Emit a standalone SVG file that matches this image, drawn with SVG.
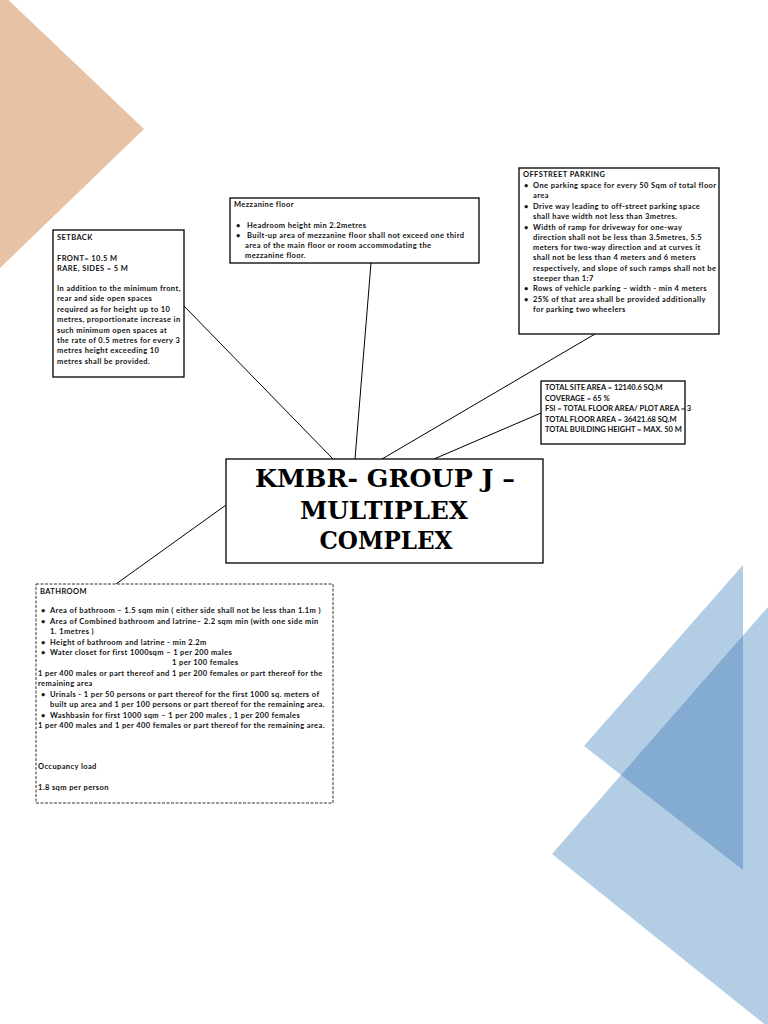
<svg xmlns="http://www.w3.org/2000/svg" width="768" height="1024" viewBox="0 0 768 1024">
<style>
.box{fill:#fff;stroke:#000;stroke-width:1.3}
.dash{fill:#fff;stroke:#333;stroke-width:1;stroke-dasharray:3 1.5}
.t{font-family:Lato,"Liberation Sans",sans-serif;font-size:7.5px;font-weight:bold;fill:#111;letter-spacing:0.4px}
.caps{letter-spacing:0}
.title{font-family:"DejaVu Serif","Liberation Serif",serif;font-size:24px;font-weight:bold;fill:#000;text-anchor:middle}
.conn{stroke:#000;stroke-width:1;fill:none}
</style>
<rect width="768" height="1024" fill="#fff"/>
<g id="decor">
<polygon points="0,-8 144,129 0,268" fill="#E8C2A5"/>
<polygon points="743,565 584,746 743,870" fill="#B3CDE4"/>
<polygon points="768,607 552,854 768,1027" fill="#B3CDE4"/>
<polygon points="743,635.6 621,775 743,870" fill="#84ABD2"/>
</g>
<g id="connectors">
<line class="conn" x1="184" y1="306" x2="333" y2="459"/>
<line class="conn" x1="371" y1="263" x2="355" y2="459"/>
<line class="conn" x1="595" y1="334" x2="382" y2="459"/>
<line class="conn" x1="541" y1="413" x2="434" y2="459"/>
<line class="conn" x1="226" y1="505" x2="116" y2="584"/>
</g>
<g id="setback">
<rect class="box" x="53" y="230" width="131" height="147"/>
<text class="t" x="57" y="240">SETBACK</text>
<text class="t" x="57" y="261">FRONT= 10.5 M</text>
<text class="t" x="57" y="271">RARE, SIDES = 5 M</text>
<text class="t" x="57" y="291">In addition to the minimum front,</text>
<text class="t" x="57" y="301">rear and side open spaces</text>
<text class="t" x="57" y="312">required as  for height up to 10</text>
<text class="t" x="57" y="322">metres, proportionate increase in</text>
<text class="t" x="57" y="333">such minimum open spaces at</text>
<text class="t" x="57" y="343">the rate of 0.5 metres for every 3</text>
<text class="t" x="57" y="353">metres height exceeding 10</text>
<text class="t" x="57" y="364">metres shall be provided.</text>
</g>
<g id="mezzanine">
<rect class="box" x="230" y="198" width="249" height="65"/>
<text class="t" x="234" y="207">Mezzanine floor</text>
<text class="t" x="236" y="228">•</text><text class="t" x="247" y="228">Headroom height min 2.2metres</text>
<text class="t" x="236" y="238">•</text><text class="t" x="247" y="238">Built-up area of mezzanine floor shall not exceed one third</text>
<text class="t" x="245" y="248">area of the main floor or room accommodating the</text>
<text class="t" x="245" y="258">mezzanine floor.</text>
</g>
<g id="parking">
<rect class="box" x="519" y="168" width="200" height="166"/>
<text class="t" x="523" y="177">OFFSTREET PARKING</text>
<text class="t" x="524" y="188">•</text><text class="t" x="533" y="188">One parking space for every 50 Sqm of total floor</text>
<text class="t" x="533" y="198">area</text>
<text class="t" x="524" y="209">•</text><text class="t" x="533" y="209">Drive way leading to off-street parking space</text>
<text class="t" x="533" y="219">shall have width not less than 3metres.</text>
<text class="t" x="524" y="230">•</text><text class="t" x="533" y="230">Width of ramp for driveway for one-way</text>
<text class="t" x="533" y="240">direction shall not be less than 3.5metres, 5.5</text>
<text class="t" x="533" y="250">meters for two-way direction and at curves it</text>
<text class="t" x="533" y="260">shall not be less than 4 meters and 6 meters</text>
<text class="t" x="533" y="271">respectively, and slope of such ramps shall not be</text>
<text class="t" x="533" y="281">steeper than 1:7</text>
<text class="t" x="524" y="291">•</text><text class="t" x="533" y="291">Rows of vehicle parking – width - min 4 meters</text>
<text class="t" x="524" y="302">•</text><text class="t" x="533" y="302">25% of that area shall be provided additionally</text>
<text class="t" x="533" y="312">for parking two wheelers</text>
</g>
<g id="totals">
<rect class="box" x="541" y="381" width="144" height="63"/>
<text class="t caps" x="545" y="390">TOTAL SITE AREA = 12140.6 SQ.M</text>
<text class="t caps" x="545" y="401">COVERAGE = 65 %</text>
<text class="t caps" x="545" y="411">FSI = TOTAL FLOOR AREA/ PLOT AREA = 3</text>
<text class="t caps" x="545" y="422">TOTAL FLOOR AREA = 36421.68 SQ.M</text>
<text class="t caps" x="545" y="432">TOTAL BUILDING HEIGHT = MAX. 50 M</text>
</g>
<g id="title">
<rect class="box" x="226" y="459" width="317" height="104"/>
<text class="title" x="385" y="487" textLength="260" lengthAdjust="spacingAndGlyphs">KMBR- GROUP J –</text>
<text class="title" x="384" y="519" textLength="168" lengthAdjust="spacingAndGlyphs">MULTIPLEX</text>
<text class="title" x="386" y="549" textLength="133" lengthAdjust="spacingAndGlyphs">COMPLEX</text>
</g>
<g id="bathroom">
<rect class="dash" x="36" y="584" width="297" height="219"/>
<text class="t" x="40" y="594">BATHROOM</text>
<text class="t" x="41" y="613">•</text><text class="t" x="50" y="613">Area of bathroom – 1.5 sqm min ( either side shall not be less than 1.1m )</text>
<text class="t" x="41" y="624">•</text><text class="t" x="50" y="624">Area of Combined bathroom and latrine– 2.2 sqm min (with one side min</text>
<text class="t" x="50" y="634">1. 1metres )</text>
<text class="t" x="41" y="645">•</text><text class="t" x="50" y="645">Height of bathroom and latrine - min 2.2m</text>
<text class="t" x="41" y="655">•</text><text class="t" x="50" y="655">Water closet for first 1000sqm – 1 per 200 males</text>
<text class="t" x="172" y="665">1 per 100 females</text>
<text class="t" x="38" y="676">1 per 400 males or part thereof and 1 per 200 females or part thereof for the</text>
<text class="t" x="38" y="686">remaining area</text>
<text class="t" x="41" y="697">•</text><text class="t" x="50" y="697">Urinals - 1 per 50 persons or part thereof for the first 1000 sq. meters of</text>
<text class="t" x="50" y="707">built up area and 1 per 100 persons or part thereof for the remaining area.</text>
<text class="t" x="41" y="718">•</text><text class="t" x="50" y="718">Washbasin for first 1000 sqm – 1 per 200 males , 1 per 200 females</text>
<text class="t" x="38" y="728">1 per 400 males and 1 per 400 females or part thereof for the remaining area.</text>
<text class="t" x="38" y="769">Occupancy load</text>
<text class="t" x="38" y="790">1.8 sqm per person</text>
</g>
</svg>
